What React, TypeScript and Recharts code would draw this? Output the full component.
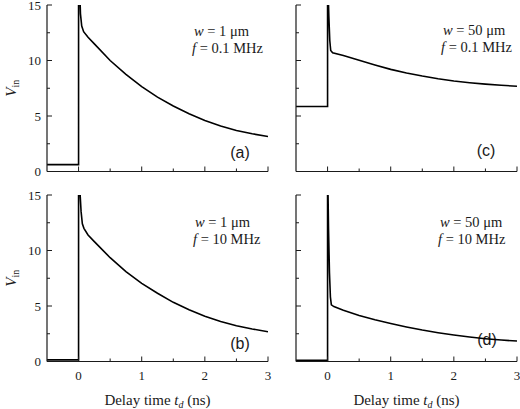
import { LineChart, Line, XAxis, YAxis } from 'recharts';

const SERIF = '"Liberation Serif", "Times New Roman", Times, serif';
const SANS = '"Liberation Sans", Arial, Helvetica, sans-serif';
const INK = '#1a1a1a';

// tick positions (majors every 1 ns / 5 units, minors in between)
const xTicks = [0, 0.5, 1, 1.5, 2, 2.5, 3];
const yTicks = [0, 2.5, 5, 7.5, 10, 12.5, 15];

// (a) w = 1 um, f = 0.1 MHz
const tA = [-0.5, 0, 0, 0.02, 0.03, 0.05, 0.08, 0.15, 0.25, 0.5, 0.75, 1, 1.25, 1.5, 1.75, 2, 2.25, 2.5, 2.75, 3];
const vA = [0.62, 0.62, 20, 16, 14.2, 13.1, 12.6, 12.1, 11.5, 10.0, 8.75, 7.65, 6.7, 5.9, 5.2, 4.6, 4.1, 3.7, 3.4, 3.15];

// (b) w = 1 um, f = 10 MHz
const tB = [-0.5, 0, 0, 0.02, 0.04, 0.06, 0.085, 0.15, 0.25, 0.5, 0.75, 1, 1.25, 1.5, 1.75, 2, 2.25, 2.5, 2.75, 3];
const vB = [0.15, 0.15, 20, 15.5, 13.5, 12.4, 12.0, 11.4, 10.8, 9.35, 8.1, 7.04, 6.15, 5.33, 4.67, 4.08, 3.6, 3.22, 2.93, 2.68];

// (c) w = 50 um, f = 0.1 MHz
const tC = [-0.5, 0, 0, 0.01, 0.02, 0.035, 0.05, 0.08, 0.25, 0.5, 0.75, 1, 1.25, 1.5, 1.75, 2, 2.25, 2.5, 2.75, 3];
const vC = [5.85, 5.85, 20, 16, 14, 11.8, 10.9, 10.7, 10.45, 10.02, 9.6, 9.2, 8.88, 8.6, 8.36, 8.16, 8.0, 7.87, 7.77, 7.68];

// (d) w = 50 um, f = 10 MHz
const tD = [-0.5, 0, 0, 0.005, 0.015, 0.03, 0.045, 0.06, 0.1, 0.25, 0.5, 0.75, 1, 1.25, 1.5, 1.75, 2, 2.25, 2.5, 2.75, 3];
const vD = [0.1, 0.1, 20, 16, 12, 8, 5.8, 5.1, 4.95, 4.62, 4.15, 3.76, 3.42, 3.11, 2.83, 2.59, 2.38, 2.2, 2.05, 1.93, 1.84];

const rows = (t: number[], v: number[]) => t.map((x, i) => ({ t: x, v: v[i] }));

const isMajor = (v: number, step: number) => Math.abs(v / step - Math.round(v / step)) < 1e-6;

function BottomTick(props: any) {
  const { x, y, payload, showLabel } = props;
  const major = isMajor(payload.value, 1);
  return (
    <g>
      <line x1={x} x2={x} y1={y} y2={y - (major ? 5 : 3)} stroke={INK} strokeWidth={1} />
      {showLabel && major && (
        <text x={x} y={y + 18} textAnchor="middle" fontFamily={SERIF} fontSize={13} fill={INK}>
          {payload.value}
        </text>
      )}
    </g>
  );
}

function TopTick(props: any) {
  const { x, y, payload } = props;
  const major = isMajor(payload.value, 1);
  return <line x1={x} x2={x} y1={y} y2={y + (major ? 5 : 3)} stroke={INK} strokeWidth={1} />;
}

function LeftTick(props: any) {
  const { x, y, payload, showLabel } = props;
  const major = isMajor(payload.value, 5);
  return (
    <g>
      <line x1={x} x2={x + (major ? 5 : 3)} y1={y} y2={y} stroke={INK} strokeWidth={1} />
      {showLabel && major && (
        <text x={x - 6} y={y + 4.5} textAnchor="end" fontFamily={SERIF} fontSize={13} fill={INK}>
          {payload.value}
        </text>
      )}
    </g>
  );
}

function RightTick(props: any) {
  const { x, y, payload } = props;
  const major = isMajor(payload.value, 5);
  return <line x1={x} x2={x - (major ? 5 : 3)} y1={y} y2={y} stroke={INK} strokeWidth={1} />;
}

interface PanelProps {
  data: { t: number; v: number }[];
  left: number;
  top: number;
  width: number;
  height: number;
  plotTop: number;
  yAxisWidth: number;
  marginRight: number;
  xAxisHeight: number;
  leftCol: boolean;
  bottomRow: boolean;
  w: string;
  f: string;
  tag: string;
  annoX: number;
  annoY: number;
  tagX: number;
  tagY: number;
}

function Panel(p: PanelProps) {
  const plotLeft = p.yAxisWidth;
  const plotRight = p.width - p.marginRight;
  const plotBottom = p.height - p.xAxisHeight;
  const midX = (plotLeft + plotRight) / 2;
  const midY = (p.plotTop + plotBottom) / 2;
  const axisLine = { stroke: INK, strokeWidth: 1.2 };
  return (
    <div style={{ position: 'absolute', left: p.left, top: p.top }}>
      <LineChart width={p.width} height={p.height} data={p.data} margin={{ top: p.plotTop, right: p.marginRight, bottom: 0, left: 0 }}>
        <XAxis
          dataKey="t"
          type="number"
          domain={[-0.5, 3]}
          ticks={xTicks}
          interval={0}
          allowDataOverflow
          height={p.xAxisHeight}
          axisLine={axisLine}
          tickLine={false}
          tickSize={0}
          tickMargin={0}
          tick={(tp: any) => <BottomTick {...tp} showLabel={p.bottomRow} />}
        />
        <XAxis
          xAxisId="top"
          orientation="top"
          dataKey="t"
          type="number"
          domain={[-0.5, 3]}
          ticks={xTicks}
          interval={0}
          allowDataOverflow
          height={0}
          axisLine={axisLine}
          tickLine={false}
          tickSize={0}
          tickMargin={0}
          tick={(tp: any) => <TopTick {...tp} />}
        />
        <YAxis
          type="number"
          domain={[0, 15]}
          ticks={yTicks}
          interval={0}
          allowDataOverflow
          width={p.yAxisWidth}
          axisLine={axisLine}
          tickLine={false}
          tickSize={0}
          tickMargin={0}
          tick={(tp: any) => <LeftTick {...tp} showLabel={p.leftCol} />}
        />
        <YAxis
          yAxisId="right"
          orientation="right"
          type="number"
          domain={[0, 15]}
          ticks={yTicks}
          interval={0}
          allowDataOverflow
          width={0}
          axisLine={axisLine}
          tickLine={false}
          tickSize={0}
          tickMargin={0}
          tick={(tp: any) => <RightTick {...tp} />}
        />
        <Line
          type="linear"
          dataKey="v"
          stroke="#000"
          strokeWidth={1.6}
          dot={false}
          activeDot={false}
          isAnimationActive={false}
        />
        {p.leftCol && (
          <text
            x={16}
            y={midY}
            transform={`rotate(-90, 16, ${midY})`}
            textAnchor="middle"
            fontFamily={SERIF}
            fontSize={15}
            fill={INK}
          >
            <tspan fontStyle="italic">V</tspan>
            <tspan fontSize={10} dy={3}>in</tspan>
          </text>
        )}
        {p.bottomRow && (
          <text x={midX} y={p.height - 4} textAnchor="middle" fontFamily={SERIF} fontSize={15} fill={INK}>
            Delay time <tspan fontStyle="italic">t</tspan>
            <tspan fontStyle="italic" fontSize={10} dy={3}>d</tspan>
            <tspan dy={-3}> (ns)</tspan>
          </text>
        )}
        <text x={p.annoX} y={p.annoY} fontFamily={SERIF} fontSize={14.5} fill={INK}>
          <tspan fontStyle="italic">w</tspan> = {p.w}
        </text>
        <text x={p.annoX - 2} y={p.annoY + 17} fontFamily={SERIF} fontSize={14.5} fill={INK}>
          <tspan fontStyle="italic">f</tspan> = {p.f}
        </text>
        <text x={p.tagX} y={p.tagY} textAnchor="middle" fontFamily={SANS} fontSize={16} fill={INK}>
          {p.tag}
        </text>
      </LineChart>
    </div>
  );
}

export default function App() {
  return (
    <div style={{ position: 'absolute', left: 0, top: 0, width: 520, height: 409, background: '#fff' }}>
      <Panel
        data={rows(tA, vA)}
        left={0} top={0} width={272} height={200} plotTop={5}
        yAxisWidth={47} marginRight={4} xAxisHeight={28.5}
        leftCol bottomRow={false}
        w="1 μm" f="0.1 MHz" tag="(a)"
        annoX={194} annoY={36} tagX={240} tagY={158}
      />
      <Panel
        data={rows(tC, vC)}
        left={250} top={0} width={270} height={200} plotTop={5}
        yAxisWidth={46} marginRight={3} xAxisHeight={28.5}
        leftCol={false} bottomRow={false}
        w="50 μm" f="0.1 MHz" tag="(c)"
        annoX={193} annoY={35} tagX={236} tagY={156}
      />
      <Panel
        data={rows(tB, vB)}
        left={0} top={180} width={272} height={229} plotTop={15}
        yAxisWidth={47} marginRight={4} xAxisHeight={47.5}
        leftCol bottomRow
        w="1 μm" f="10 MHz" tag="(b)"
        annoX={195} annoY={47} tagX={240} tagY={169}
      />
      <Panel
        data={rows(tD, vD)}
        left={250} top={180} width={270} height={229} plotTop={15}
        yAxisWidth={46} marginRight={3} xAxisHeight={47.5}
        leftCol={false} bottomRow
        w="50 μm" f="10 MHz" tag="(d)"
        annoX={190} annoY={47} tagX={237} tagY={165}
      />
    </div>
  );
}
